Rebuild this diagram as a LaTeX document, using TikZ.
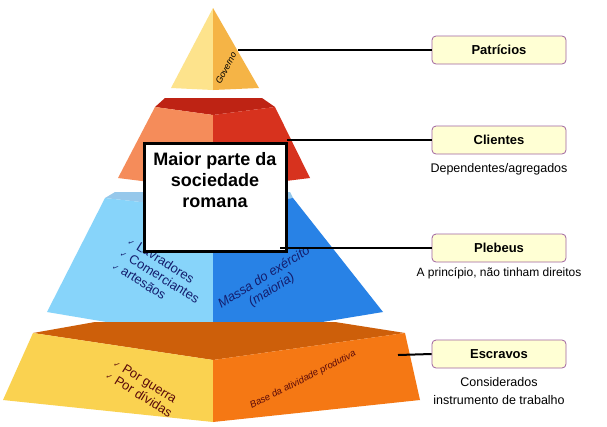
\documentclass[tikz,border=0pt]{standalone}
\usepackage{fontspec}
\setmainfont{Liberation Sans}
\newfontfamily\dv{DejaVu Sans}
\newcommand{\ck}{{\dv\fontsize{8}{8}\selectfont ✓}\ }
\begin{document}
\begin{tikzpicture}[x=1pt,y=-1pt,
  lbl/.style={draw=lblborder,fill=lblfill,rounded corners=4pt,line width=0.8pt,minimum width=134pt,minimum height=28pt,font=\bfseries\fontsize{13}{15}\selectfont},
  sub/.style={font=\fontsize{12.5}{14}\selectfont,align=center},
  conn/.style={line width=2pt,black}]
\definecolor{lblfill}{RGB}{255,255,212}
\definecolor{lblborder}{RGB}{160,100,160}
\useasboundingbox (0,0) rectangle (607,426);
\fill[white] (0,0) rectangle (607,426);
% top
\fill[fill={rgb,255:red,253;green,227;blue,140}] (213,8)--(171,88)--(213,90)--cycle;
\fill[fill={rgb,255:red,245;green,180;blue,70}] (213,8)--(259,88)--(213,90)--cycle;
% tier 2
\fill[fill={rgb,255:red,190;green,35;blue,20}] (165,98)--(262,98)--(275,107)--(213,115)--(155,107)--cycle;
\fill[fill={rgb,255:red,245;green,140;blue,90}] (155,107)--(213,115)--(213,190)--(118,178)--cycle;
\fill[fill={rgb,255:red,215;green,50;blue,30}] (275,107)--(213,115)--(213,190)--(310,178)--cycle;
% tier 3
\fill[fill={rgb,255:red,150;green,200;blue,235}] (115,192)--(290,192)--(293,198)--(213,210)--(105,198)--cycle;
\fill[fill={rgb,255:red,135;green,212;blue,250}] (105,198)--(213,210)--(213,340)--(47,312)--cycle;
\fill[fill={rgb,255:red,40;green,130;blue,230}] (293,198)--(213,210)--(213,340)--(383,312)--cycle;
% tier 4
\fill[fill={rgb,255:red,205;green,95;blue,10}] (95,322)--(335,322)--(405,333)--(213,360)--(33,333)--cycle;
\fill[fill={rgb,255:red,250;green,210;blue,80}] (33,333)--(213,360)--(213,422)--(3,400)--cycle;
\fill[fill={rgb,255:red,245;green,120;blue,20}] (405,333)--(213,360)--(213,422)--(420,400)--cycle;
% texts on pyramid
\node[rotate=62,font=\itshape\fontsize{9}{10}\selectfont] (gov) at (226,68) {Governo};
\node[rotate=-32,align=left,text={rgb,255:red,20;green,30;blue,110},font=\fontsize{13}{14.5}\selectfont] (lav) at (160,276) {\ck Lavradores\\\ck Comerciantes\\\ck artesãos};
\node[rotate=32,align=center,text={rgb,255:red,20;green,30;blue,110},font=\itshape\fontsize{13}{14.5}\selectfont] (mas) at (268,284) {Massa do exército\\(maioria)};
\node[rotate=-32,align=left,text={rgb,255:red,90;green,10;blue,10},font=\fontsize{13}{14.5}\selectfont] (por) at (143,388) {\ck Por guerra\\\ck Por dívidas};
\node[rotate=27,text={rgb,255:red,90;green,10;blue,10},font=\itshape\fontsize{9.5}{10}\selectfont] (bas) at (303,380) {Base da atividade produtiva};
% white box
\node[draw,line width=3pt,fill=white,minimum width=142pt,minimum height=108pt,align=center,font=\bfseries\fontsize{18}{21}\selectfont,inner sep=0pt] (box) at (215,197) {Maior parte da\\sociedade\\romana\\[14pt]};
% labels
\node[lbl] (pat) at (499,50) {Patrícios};
\node[lbl] (cli) at (499,140) {Clientes};
\node[lbl] (ple) at (499,248) {Plebeus};
\node[lbl] (esc) at (499,354) {Escravos};
\node[sub] (clis) at (499,169) {Dependentes/agregados};
\node[sub,font=\fontsize{12}{14}\selectfont] (ples) at (499,273) {A princípio, não tinham direitos};
\node[sub,font=\fontsize{12.5}{18}\selectfont] (escs) at (499,391) {Considerados\\instrumento de trabalho};
\coordinate (c1) at (238,50);
\coordinate (c2) at (287,140);
\coordinate (c3) at (280,248);
\coordinate (c4) at (398,355);
\draw[conn] (c1) -- (pat.west);
\draw[conn] (c2) -- (cli.west);
\draw[conn] (c3) -- (ple.west);
\draw[conn] (c4) -- (esc.west);
\end{tikzpicture}
\end{document}
